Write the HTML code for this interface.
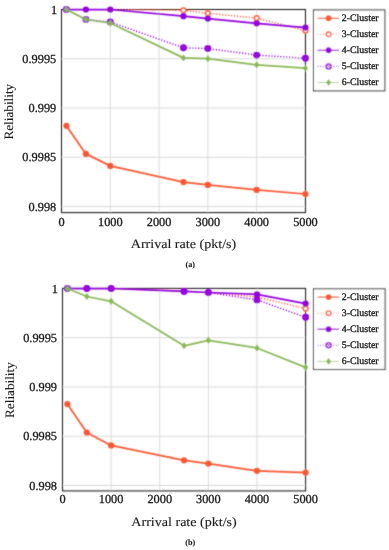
<!DOCTYPE html>
<html><head><meta charset="utf-8"><title>Reliability vs Arrival rate</title>
<style>html,body{margin:0;padding:0;background:#fff}svg{display:block}</style>
</head><body>
<svg width="389" height="550" viewBox="0 0 389 550">
<style>
text{font-family:"Liberation Serif",serif;fill:#1a1a1a;stroke:#1a1a1a;stroke-width:0.32px;text-rendering:geometricPrecision}
.tk{font-size:12.3px}
.lb{font-size:12.8px;stroke-width:0.1px}
.lg{font-size:9.9px}
.cap{font-family:"Liberation Serif",serif;font-weight:bold;font-size:8.2px;stroke-width:0.1px}
</style>
<defs><filter id="bl" x="-5%" y="-5%" width="110%" height="110%"><feConvolveMatrix order="3" kernelMatrix="1 2 1 2 12 2 1 2 1" preserveAlpha="false" edgeMode="none"/></filter></defs>
<rect width="389" height="550" fill="#fff"/>
<g filter="url(#bl)">
<path d="M110.29 9.5V212.6M159.08 9.5V212.6M207.87 9.5V212.6M256.66 9.5V212.6M61.5 58.75H305.45M61.5 108H305.45M61.5 157.25H305.45M61.5 206.5H305.45" stroke="#d6d6d6" stroke-width="0.9" fill="none"/>
<rect x="61.5" y="9.5" width="243.95" height="203.1" fill="none" stroke="#111111" stroke-width="1.0"/>
<path d="M66.38 125.8L85.89 153.9L110.29 165.9L183.47 182.1L207.87 184.9L256.66 189.9L305.45 194" fill="none" stroke="#fa5630" stroke-width="1.75" stroke-linejoin="round"/>
<circle cx="66.38" cy="125.8" r="3.1" fill="#fa5630"/>
<circle cx="85.89" cy="153.9" r="3.1" fill="#fa5630"/>
<circle cx="110.29" cy="165.9" r="3.1" fill="#fa5630"/>
<circle cx="183.47" cy="182.1" r="3.1" fill="#fa5630"/>
<circle cx="207.87" cy="184.9" r="3.1" fill="#fa5630"/>
<circle cx="256.66" cy="189.9" r="3.1" fill="#fa5630"/>
<circle cx="305.45" cy="194" r="3.1" fill="#fa5630"/>
<path d="M110.29 9.5L183.47 10.3L207.87 13.3L256.66 18.1L305.45 30.6" fill="none" stroke="#fa5630" stroke-width="1.35" stroke-linejoin="round" stroke-dasharray="1.25 1.7"/>
<circle cx="183.47" cy="10.3" r="2.38" fill="#fff" stroke="#fa5630" stroke-width="1.5"/>
<circle cx="207.87" cy="13.3" r="2.38" fill="#fff" stroke="#fa5630" stroke-width="1.5"/>
<circle cx="256.66" cy="18.1" r="2.38" fill="#fff" stroke="#fa5630" stroke-width="1.5"/>
<circle cx="305.45" cy="30.6" r="2.38" fill="#fff" stroke="#fa5630" stroke-width="1.5"/>
<path d="M66.38 9.5L85.89 9.5L110.29 9.5L183.47 16.2L207.87 18.6L256.66 23.3L305.45 27.6" fill="none" stroke="#9200de" stroke-width="1.75" stroke-linejoin="round"/>
<circle cx="66.38" cy="9.5" r="3.1" fill="#9200de"/>
<circle cx="85.89" cy="9.5" r="3.1" fill="#9200de"/>
<circle cx="110.29" cy="9.5" r="3.1" fill="#9200de"/>
<circle cx="183.47" cy="16.2" r="3.1" fill="#9200de"/>
<circle cx="207.87" cy="18.6" r="3.1" fill="#9200de"/>
<circle cx="256.66" cy="23.3" r="3.1" fill="#9200de"/>
<circle cx="305.45" cy="27.6" r="3.1" fill="#9200de"/>
<path d="M66.38 9.5L85.89 19.4L110.29 22L183.47 47.8L207.87 48.5L256.66 55.1L305.45 58.3" fill="none" stroke="#9200de" stroke-width="1.35" stroke-linejoin="round" stroke-dasharray="1.25 1.7"/>
<circle cx="66.38" cy="9.5" r="2.58" fill="#a634ee" stroke="#9200de" stroke-width="1.75"/><path d="M64.56 7.68L68.2 11.32M64.56 11.32L68.2 7.68" stroke="#9200de" stroke-width="1.05"/>
<circle cx="85.89" cy="19.4" r="2.58" fill="#a634ee" stroke="#9200de" stroke-width="1.75"/><path d="M84.07 17.58L87.72 21.22M84.07 21.22L87.72 17.58" stroke="#9200de" stroke-width="1.05"/>
<circle cx="110.29" cy="22" r="2.58" fill="#a634ee" stroke="#9200de" stroke-width="1.75"/><path d="M108.47 20.18L112.11 23.82M108.47 23.82L112.11 20.18" stroke="#9200de" stroke-width="1.05"/>
<circle cx="183.47" cy="47.8" r="2.58" fill="#a634ee" stroke="#9200de" stroke-width="1.75"/><path d="M181.65 45.98L185.3 49.62M181.65 49.62L185.3 45.98" stroke="#9200de" stroke-width="1.05"/>
<circle cx="207.87" cy="48.5" r="2.58" fill="#a634ee" stroke="#9200de" stroke-width="1.75"/><path d="M206.05 46.68L209.69 50.32M206.05 50.32L209.69 46.68" stroke="#9200de" stroke-width="1.05"/>
<circle cx="256.66" cy="55.1" r="2.58" fill="#a634ee" stroke="#9200de" stroke-width="1.75"/><path d="M254.84 53.28L258.48 56.92M254.84 56.92L258.48 53.28" stroke="#9200de" stroke-width="1.05"/>
<circle cx="305.45" cy="58.3" r="2.58" fill="#a634ee" stroke="#9200de" stroke-width="1.75"/><path d="M303.63 56.48L307.27 60.12M303.63 60.12L307.27 56.48" stroke="#9200de" stroke-width="1.05"/>
<path d="M66.38 9.5L85.89 19.5L110.29 23L183.47 57.9L207.87 58.7L256.66 64.8L305.45 68.2" fill="none" stroke="#88b755" stroke-width="1.75" stroke-linejoin="round"/>
<path d="M66.38 6.03L69.01 9.5L66.38 12.97L63.74 9.5Z" fill="#88b755"/>
<path d="M85.89 16.03L88.53 19.5L85.89 22.97L83.26 19.5Z" fill="#88b755"/>
<path d="M110.29 19.53L112.92 23L110.29 26.47L107.65 23Z" fill="#88b755"/>
<path d="M183.47 54.43L186.11 57.9L183.47 61.37L180.84 57.9Z" fill="#88b755"/>
<path d="M207.87 55.23L210.5 58.7L207.87 62.17L205.24 58.7Z" fill="#88b755"/>
<path d="M256.66 61.33L259.29 64.8L256.66 68.27L254.02 64.8Z" fill="#88b755"/>
<path d="M305.45 64.73L308.08 68.2L305.45 71.67L302.81 68.2Z" fill="#88b755"/>
<rect x="313.5" y="9.9" width="71.4" height="81" fill="#fff" stroke="#111111" stroke-width="0.9"/>
<path d="M317.6 18.3H339.0" stroke="#fa5630" stroke-width="1.1"/>
<circle cx="328.6" cy="18.3" r="2.95" fill="#fa5630"/>
<path d="M317.6 34.3H339.0" stroke="#fa5630" stroke-width="1.1" stroke-dasharray="1.0 1.6" stroke-opacity="0.75"/>
<circle cx="328.6" cy="34.3" r="2.3" fill="#fff" stroke="#fa5630" stroke-width="1.3"/>
<path d="M317.6 50.3H339.0" stroke="#9200de" stroke-width="1.1"/>
<circle cx="328.6" cy="50.3" r="2.95" fill="#9200de"/>
<path d="M317.6 66.4H339.0" stroke="#9200de" stroke-width="1.1" stroke-dasharray="1.0 1.6" stroke-opacity="0.75"/>
<circle cx="328.6" cy="66.4" r="2.58" fill="#fff" stroke="#9200de" stroke-width="1.25"/><path d="M326.78 64.58L330.42 68.22M326.78 68.22L330.42 64.58" stroke="#9200de" stroke-width="0.94"/>
<path d="M317.6 82.5H339.0" stroke="#88b755" stroke-width="0.9" stroke-opacity="0.7"/>
<path d="M328.6 79.2L331.11 82.5L328.6 85.8L326.09 82.5Z" fill="#88b755"/>
<path d="M111.12 288.4V490.9M159.74 288.4V490.9M208.36 288.4V490.9M256.98 288.4V490.9M62.5 337.67H305.6M62.5 386.95H305.6M62.5 436.22H305.6M62.5 485.5H305.6" stroke="#d6d6d6" stroke-width="0.9" fill="none"/>
<rect x="62.5" y="288.4" width="243.1" height="202.5" fill="none" stroke="#111111" stroke-width="1.0"/>
<path d="M67.36 404L86.81 432.5L111.12 445.4L184.05 460.3L208.36 463.6L256.98 470.8L305.6 472.6" fill="none" stroke="#fa5630" stroke-width="1.75" stroke-linejoin="round"/>
<circle cx="67.36" cy="404" r="3.1" fill="#fa5630"/>
<circle cx="86.81" cy="432.5" r="3.1" fill="#fa5630"/>
<circle cx="111.12" cy="445.4" r="3.1" fill="#fa5630"/>
<circle cx="184.05" cy="460.3" r="3.1" fill="#fa5630"/>
<circle cx="208.36" cy="463.6" r="3.1" fill="#fa5630"/>
<circle cx="256.98" cy="470.8" r="3.1" fill="#fa5630"/>
<circle cx="305.6" cy="472.6" r="3.1" fill="#fa5630"/>
<path d="M111.12 288.5L184.05 290.8L208.36 292.5L256.98 297L305.6 308.6" fill="none" stroke="#fa5630" stroke-width="1.35" stroke-linejoin="round" stroke-dasharray="1.25 1.7"/>
<circle cx="184.05" cy="290.8" r="2.38" fill="#fff" stroke="#fa5630" stroke-width="1.5"/>
<circle cx="256.98" cy="297" r="2.38" fill="#fff" stroke="#fa5630" stroke-width="1.5"/>
<circle cx="305.6" cy="308.6" r="2.38" fill="#fff" stroke="#fa5630" stroke-width="1.5"/>
<path d="M67.36 288.5L86.81 288.5L111.12 288.5L184.05 291.4L208.36 292.5L256.98 294.3L305.6 303.6" fill="none" stroke="#9200de" stroke-width="1.75" stroke-linejoin="round"/>
<circle cx="67.36" cy="288.5" r="3.1" fill="#9200de"/>
<circle cx="86.81" cy="288.5" r="3.1" fill="#9200de"/>
<circle cx="111.12" cy="288.5" r="3.1" fill="#9200de"/>
<circle cx="184.05" cy="291.4" r="3.1" fill="#9200de"/>
<circle cx="208.36" cy="292.5" r="3.1" fill="#9200de"/>
<circle cx="256.98" cy="294.3" r="3.1" fill="#9200de"/>
<circle cx="305.6" cy="303.6" r="3.1" fill="#9200de"/>
<path d="M208.36 292.5L256.98 299.9L305.6 317.3" fill="none" stroke="#9200de" stroke-width="1.35" stroke-linejoin="round" stroke-dasharray="1.25 1.7"/>
<circle cx="67.36" cy="288.5" r="2.58" fill="#a634ee" stroke="#9200de" stroke-width="1.75"/><path d="M65.54 286.68L69.18 290.32M65.54 290.32L69.18 286.68" stroke="#9200de" stroke-width="1.05"/>
<circle cx="86.81" cy="288.5" r="2.58" fill="#a634ee" stroke="#9200de" stroke-width="1.75"/><path d="M84.99 286.68L88.63 290.32M84.99 290.32L88.63 286.68" stroke="#9200de" stroke-width="1.05"/>
<circle cx="111.12" cy="288.5" r="2.58" fill="#a634ee" stroke="#9200de" stroke-width="1.75"/><path d="M109.3 286.68L112.94 290.32M109.3 290.32L112.94 286.68" stroke="#9200de" stroke-width="1.05"/>
<circle cx="184.05" cy="291.4" r="2.58" fill="#a634ee" stroke="#9200de" stroke-width="1.75"/><path d="M182.23 289.58L185.87 293.22M182.23 293.22L185.87 289.58" stroke="#9200de" stroke-width="1.05"/>
<circle cx="208.36" cy="292.5" r="2.58" fill="#a634ee" stroke="#9200de" stroke-width="1.75"/><path d="M206.54 290.68L210.18 294.32M206.54 294.32L210.18 290.68" stroke="#9200de" stroke-width="1.05"/>
<circle cx="256.98" cy="299.9" r="2.58" fill="#a634ee" stroke="#9200de" stroke-width="1.75"/><path d="M255.16 298.08L258.8 301.72M255.16 301.72L258.8 298.08" stroke="#9200de" stroke-width="1.05"/>
<circle cx="305.6" cy="317.3" r="2.58" fill="#a634ee" stroke="#9200de" stroke-width="1.75"/><path d="M303.78 315.48L307.42 319.12M303.78 319.12L307.42 315.48" stroke="#9200de" stroke-width="1.05"/>
<path d="M67.36 288.5L86.81 296.5L111.12 301.3L184.05 345.8L208.36 340.3L256.98 348L305.6 367.4" fill="none" stroke="#88b755" stroke-width="1.75" stroke-linejoin="round"/>
<path d="M67.36 285.03L70 288.5L67.36 291.97L64.73 288.5Z" fill="#88b755"/>
<path d="M86.81 293.03L89.45 296.5L86.81 299.97L84.17 296.5Z" fill="#88b755"/>
<path d="M111.12 297.83L113.76 301.3L111.12 304.77L108.48 301.3Z" fill="#88b755"/>
<path d="M184.05 342.33L186.69 345.8L184.05 349.27L181.42 345.8Z" fill="#88b755"/>
<path d="M208.36 336.83L211 340.3L208.36 343.77L205.73 340.3Z" fill="#88b755"/>
<path d="M256.98 344.53L259.62 348L256.98 351.47L254.35 348Z" fill="#88b755"/>
<path d="M305.6 363.93L308.24 367.4L305.6 370.87L302.97 367.4Z" fill="#88b755"/>
<rect x="313.5" y="288.8" width="71.6" height="80.6" fill="#fff" stroke="#111111" stroke-width="0.9"/>
<path d="M317.6 297.1H339.0" stroke="#fa5630" stroke-width="1.1"/>
<circle cx="328.6" cy="297.1" r="2.95" fill="#fa5630"/>
<path d="M317.6 313.2H339.0" stroke="#fa5630" stroke-width="1.1" stroke-dasharray="1.0 1.6" stroke-opacity="0.75"/>
<circle cx="328.6" cy="313.2" r="2.3" fill="#fff" stroke="#fa5630" stroke-width="1.3"/>
<path d="M317.6 329.2H339.0" stroke="#9200de" stroke-width="1.1"/>
<circle cx="328.6" cy="329.2" r="2.95" fill="#9200de"/>
<path d="M317.6 345.3H339.0" stroke="#9200de" stroke-width="1.1" stroke-dasharray="1.0 1.6" stroke-opacity="0.75"/>
<circle cx="328.6" cy="345.3" r="2.58" fill="#fff" stroke="#9200de" stroke-width="1.25"/><path d="M326.78 343.48L330.42 347.12M326.78 347.12L330.42 343.48" stroke="#9200de" stroke-width="0.94"/>
<path d="M317.6 361.4H339.0" stroke="#88b755" stroke-width="0.9" stroke-opacity="0.7"/>
<path d="M328.6 358.1L331.11 361.4L328.6 364.7L326.09 361.4Z" fill="#88b755"/>
</g>
<text x="57.1" y="13.7" text-anchor="end" class="tk">1</text>
<text x="56.2" y="62.95" text-anchor="end" class="tk">0.9995</text>
<text x="56.2" y="112.2" text-anchor="end" class="tk">0.999</text>
<text x="56.2" y="161.45" text-anchor="end" class="tk">0.9985</text>
<text x="56.2" y="210.7" text-anchor="end" class="tk">0.998</text>
<text x="61.5" y="225.7" text-anchor="middle" class="tk">0</text>
<text x="110.29" y="225.7" text-anchor="middle" class="tk">1000</text>
<text x="159.08" y="225.7" text-anchor="middle" class="tk">2000</text>
<text x="207.87" y="225.7" text-anchor="middle" class="tk">3000</text>
<text x="256.66" y="225.7" text-anchor="middle" class="tk">4000</text>
<text x="305.45" y="225.7" text-anchor="middle" class="tk">5000</text>
<text x="183.47" y="247.7" text-anchor="middle" class="lb" textLength="105.5" lengthAdjust="spacingAndGlyphs">Arrival rate (pkt/s)</text>
<text transform="translate(12.7 111.7) rotate(-90)" x="0" y="0" text-anchor="middle" class="lb" textLength="55.7" lengthAdjust="spacingAndGlyphs">Reliability</text>
<text x="190.3" y="266.6" text-anchor="middle" class="cap">(a)</text>
<text x="341.8" y="21.2" class="lg">2-Cluster</text>
<text x="341.8" y="37.2" class="lg">3-Cluster</text>
<text x="341.8" y="53.2" class="lg">4-Cluster</text>
<text x="341.8" y="69.3" class="lg">5-Cluster</text>
<text x="341.8" y="85.4" class="lg">6-Cluster</text>
<text x="57.9" y="292.6" text-anchor="end" class="tk">1</text>
<text x="57" y="341.87" text-anchor="end" class="tk">0.9995</text>
<text x="57" y="391.15" text-anchor="end" class="tk">0.999</text>
<text x="57" y="440.42" text-anchor="end" class="tk">0.9985</text>
<text x="57" y="489.7" text-anchor="end" class="tk">0.998</text>
<text x="62.5" y="503.2" text-anchor="middle" class="tk">0</text>
<text x="111.12" y="503.2" text-anchor="middle" class="tk">1000</text>
<text x="159.74" y="503.2" text-anchor="middle" class="tk">2000</text>
<text x="208.36" y="503.2" text-anchor="middle" class="tk">3000</text>
<text x="256.98" y="503.2" text-anchor="middle" class="tk">4000</text>
<text x="305.6" y="503.2" text-anchor="middle" class="tk">5000</text>
<text x="184.05" y="526" text-anchor="middle" class="lb" textLength="105.5" lengthAdjust="spacingAndGlyphs">Arrival rate (pkt/s)</text>
<text transform="translate(13.7 390.1) rotate(-90)" x="0" y="0" text-anchor="middle" class="lb" textLength="55.7" lengthAdjust="spacingAndGlyphs">Reliability</text>
<text x="190.3" y="544.7" text-anchor="middle" class="cap">(b)</text>
<text x="341.8" y="300" class="lg">2-Cluster</text>
<text x="341.8" y="316.1" class="lg">3-Cluster</text>
<text x="341.8" y="332.1" class="lg">4-Cluster</text>
<text x="341.8" y="348.2" class="lg">5-Cluster</text>
<text x="341.8" y="364.3" class="lg">6-Cluster</text>
</svg>
</body></html>
